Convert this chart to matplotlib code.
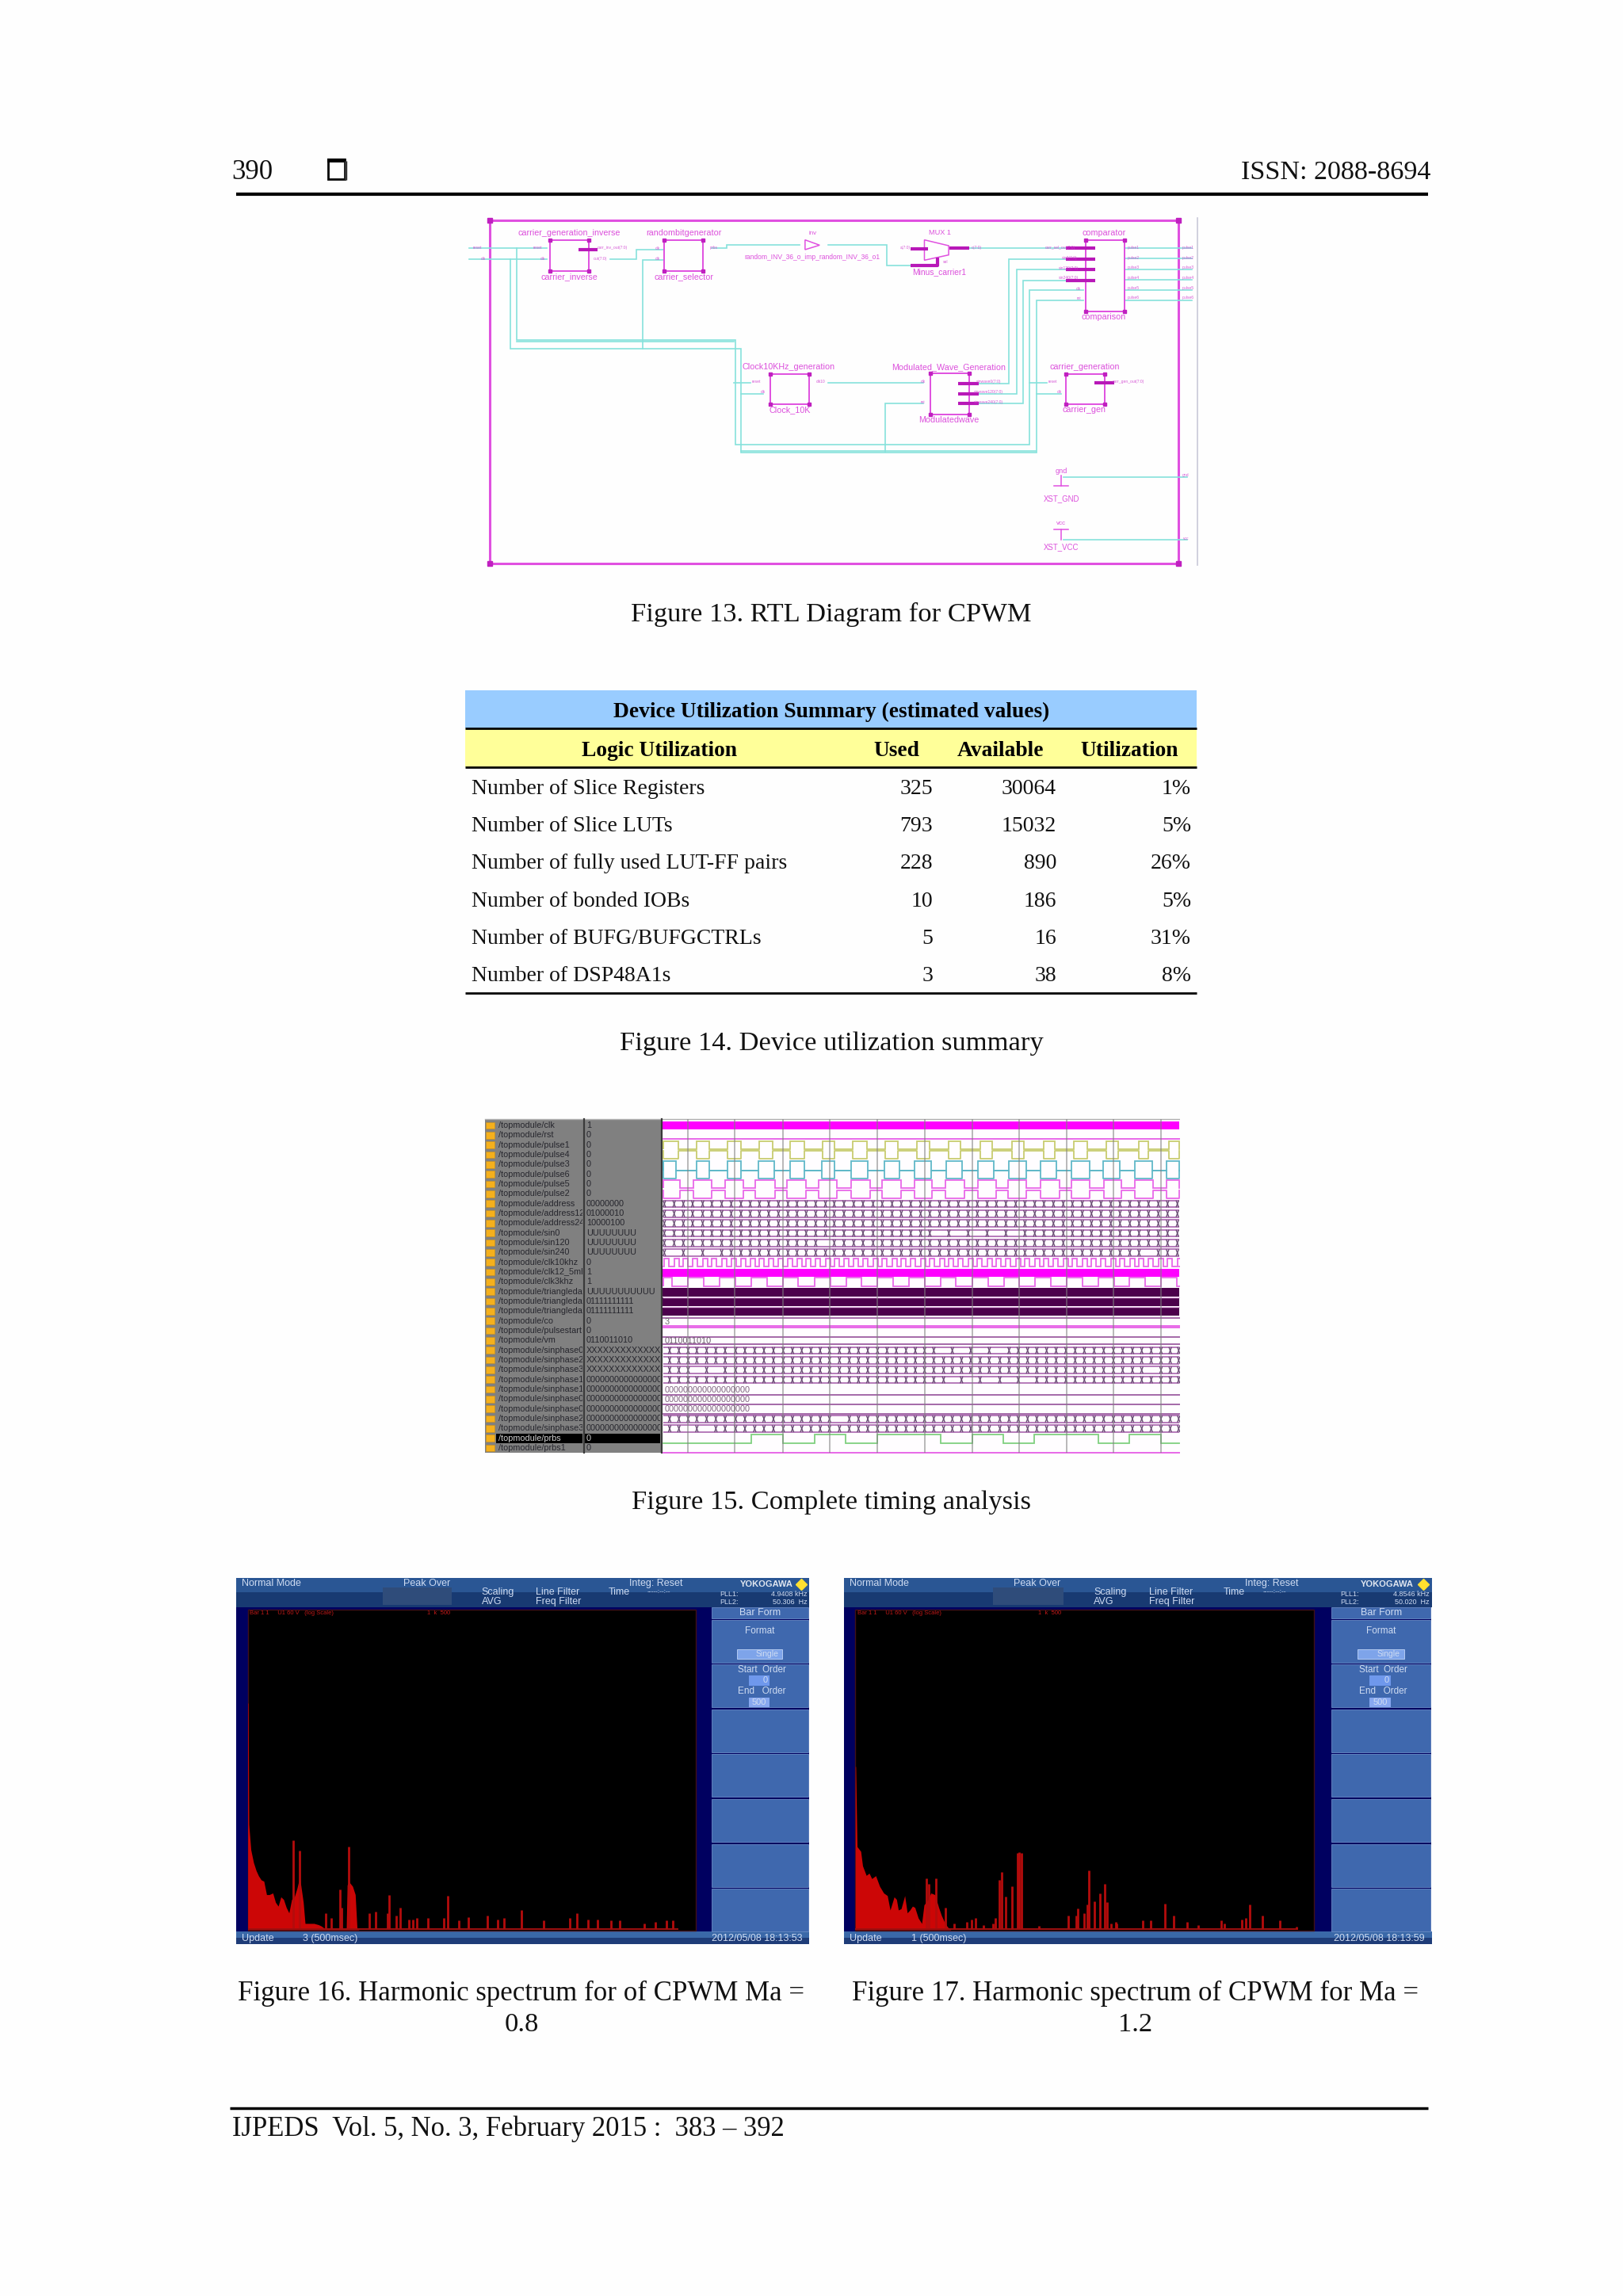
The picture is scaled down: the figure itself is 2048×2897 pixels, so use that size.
import matplotlib
matplotlib.use('Agg')
import numpy as np
import matplotlib.pyplot as plt
from matplotlib.collections import LineCollection
from matplotlib.colors import LinearSegmentedColormap
from matplotlib.patches import Rectangle, Polygon

SERIF = 'Liberation Serif'
SANS = 'Liberation Sans'

# ---- table (figure 14)
table_title = 'Device Utilization Summary (estimated values)'
table_headers = ['Logic Utilization', 'Used', 'Available', 'Utilization']
table_names = ['Number of Slice Registers', 'Number of Slice LUTs', 'Number of fully used LUT-FF pairs',
               'Number of bonded IOBs', 'Number of BUFG/BUFGCTRLs', 'Number of DSP48A1s']
table_used = ['325', '793', '228', '10', '5', '3']
table_available = ['30064', '15032', '890', '186', '16', '38']
table_util = ['1%', '5%', '26%', '5%', '31%', '8%']

# ---- RTL diagram (figure 13)
rtl_wires = [
    [(20, 160), (180, 160)], [(20, 202), (180, 202)],
    [(118, 160), (118, 508), (568, 508), (568, 902), (1175, 902), (1175, 318), (1285, 318)],
    [(104, 202), (104, 540), (580, 540), (580, 932), (1190, 932), (1190, 358), (1285, 358)],
    [(118, 514), (566, 514)], [(580, 928), (1188, 928)],
    [(310, 202), (365, 202), (365, 165), (420, 165)],
    [(420, 205), (378, 205), (378, 540)],
    [(520, 160), (550, 160), (550, 148), (700, 148)],
    [(760, 148), (880, 148), (880, 225), (930, 225)],
    [(1050, 160), (1285, 160)],
    [(1070, 672), (1132, 672), (1132, 202), (1285, 202)],
    [(1070, 710), (1148, 710), (1148, 240), (1285, 240)],
    [(1070, 748), (1162, 748), (1162, 282), (1285, 282)],
    [(760, 670), (955, 670)], [(955, 748), (878, 748), (878, 930)],
    [(565, 670), (600, 670)], [(580, 710), (625, 710)],
    [(1175, 670), (1210, 670)], [(1190, 710), (1240, 710)],
    [(1370, 158), (1510, 158)], [(1370, 197), (1510, 197)], [(1370, 240), (1510, 240)],
    [(1370, 280), (1510, 280)], [(1370, 318), (1510, 318)], [(1370, 358), (1510, 358)],
    [(1245, 1025), (1500, 1025)], [(1245, 1262), (1500, 1262)],
]
rtl_blocks = [(186, 266, 128, 245), (422, 502, 128, 245), (640, 720, 635, 750),
              (970, 1050, 632, 788), (1250, 1330, 635, 750), (1290, 1370, 128, 398)]
rtl_buses = [
    [(245, 165), (285, 165)], [(930, 163), (965, 163)], [(1010, 160), (1050, 160)],
    [(930, 225), (985, 225), (985, 195)],
    [(1250, 160), (1310, 160)], [(1250, 202), (1310, 202)], [(1250, 240), (1310, 240)], [(1250, 282), (1310, 282)],
    [(1028, 672), (1070, 672)], [(1028, 710), (1070, 710)], [(1028, 748), (1070, 748)],
    [(1308, 668), (1350, 668)],
]
rtl_labels = [
    ('carrier_generation_inverse', 226, 102, 9.5), ('carrier_inverse', 226, 266, 9.5),
    ('randombitgenerator', 462, 102, 9.5), ('carrier_selector', 462, 266, 9.5),
    ('inv', 728, 102, 7), ('random_INV_36_o_imp_random_INV_36_o1', 726, 194, 7.5),
    ('MUX 1', 990, 102, 8), ('Minus_carrier1', 988, 250, 9),
    ('comparator', 1328, 102, 9.5), ('comparison', 1328, 420, 9.5),
    ('Clock10KHz_generation', 678, 608, 9.5), ('Clock_10K', 680, 772, 9.5),
    ('Modulated_Wave_Generation', 1008, 608, 9.5), ('Modulatedwave', 1008, 810, 9.5),
    ('carrier_generation', 1288, 608, 9.5), ('carrier_gen', 1288, 772, 9.5),
    ('gnd', 1240, 1003, 8), ('XST_GND', 1240, 1108, 8.5), ('vcc', 1240, 1202, 7), ('XST_VCC', 1240, 1290, 8.5),
]
rtl_pins = [
    ('reset', 36, 157), ('clk', 48, 200), ('reset', 160, 157), ('clk', 172, 200), ('carr_inv_out(7:0)', 315, 157),
    ('out(7:0)', 290, 200), ('clk', 408, 160), ('clk', 408, 200), ('prbs', 524, 157),
    ('a(7:0)', 918, 157), ('o(7:0)', 1065, 157), ('sel', 1002, 213),
    ('carr_sel_out(7:0)', 1238, 157), ('sin0(7:0)', 1258, 197), ('sin120(7:0)', 1255, 235), ('sin240(7:0)', 1255, 272),
    ('clk', 1276, 313), ('rst', 1276, 350),
    ('pulse1', 1388, 158), ('pulse2', 1388, 197), ('pulse3', 1388, 233), ('pulse4', 1388, 272),
    ('pulse5', 1388, 310), ('pulse6', 1388, 347),
    ('pulse1', 1502, 158), ('pulse2', 1502, 195), ('pulse3', 1502, 233), ('pulse4', 1502, 272),
    ('pulse5', 1502, 310), ('pulse6', 1502, 347),
    ('reset', 612, 665), ('clk', 626, 705), ('clk10', 745, 665),
    ('clk', 955, 665), ('rst', 955, 742), ('sinwave0(7:0)', 1090, 664), ('sinwave120(7:0)', 1090, 703), ('sinwave240(7:0)', 1090, 741),
    ('reset', 1222, 665), ('clk', 1236, 705), ('carr_gen_out(7:0)', 1378, 665),
    ('gnd', 1497, 1020), ('vcc', 1497, 1258),
]

# ---- timing diagram (figure 15)
signal_names = ['clk', 'rst', 'pulse1', 'pulse4', 'pulse3', 'pulse6', 'pulse5', 'pulse2', 'address', 'address120',
                'address240', 'sin0', 'sin120', 'sin240', 'clk10khz', 'clk12_5mhz', 'clk3khz', 'triangledata',
                'triangledata1', 'triangledata2', 'co', 'pulsestart', 'vm', 'sinphase0', 'sinphase2', 'sinphase3',
                'sinphase1', 'sinphase11', 'sinphase01', 'sinphase03', 'sinphase21', 'sinphase31', 'prbs', 'prbs1']
signal_values = ['1', '0', '0', '0', '0', '0', '0', '0', '00000000', '01000010', '10000100', 'UUUUUUUU', 'UUUUUUUU',
                 'UUUUUUUU', '0', '1', '1', 'UUUUUUUUUUU', '01111111111', '01111111111', '0', '0', '0110011010',
                 'XXXXXXXXXXXXXXX', 'XXXXXXXXXXXXXXX', 'XXXXXXXXXXXXXXX', '0000000000000000', '0000000000000000',
                 '0000000000000000', '0000000000000000', '0000000000000000', '0000000000000000', '0', '0']
pulse1_high = [(712, 768), (838, 885), (955, 1005), (1075, 1125), (1192, 1245), (1315, 1358), (1428, 1482), (1552, 1598),
               (1670, 1720), (1790, 1835), (1912, 1955), (2030, 2075), (2150, 2192), (2265, 2315), (2388, 2432),
               (2510, 2548), (2625, 2665)]
pulse3_high = [(712, 760), (838, 885), (955, 1005), (1070, 1130), (1190, 1245), (1310, 1360), (1422, 1485), (1548, 1605),
               (1662, 1725), (1782, 1842), (1902, 1962), (2018, 2085), (2140, 2200), (2255, 2325), (2375, 2440),
               (2495, 2562), (2615, 2665)]
pulse5_high = [(712, 775), (825, 895), (945, 1015), (1060, 1135), (1178, 1250), (1300, 1368), (1422, 1495), (1540, 1610),
               (1662, 1728), (1780, 1850), (1902, 1970), (2015, 2085), (2140, 2210), (2255, 2325), (2378, 2445),
               (2495, 2565), (2615, 2665)]
clk3k_high = [(712, 745), (805, 865), (925, 985), (1045, 1105), (1165, 1222), (1285, 1343), (1405, 1462), (1522, 1580),
              (1640, 1700), (1760, 1818), (1880, 1940), (2000, 2058), (2118, 2178), (2237, 2297), (2358, 2417),
              (2475, 2535), (2595, 2655)]
prbs_high = [(1045, 1165), (1283, 1402), (1520, 1760), (1880, 1998), (2115, 2358), (2475, 2595)]
bus_edges_a = [715, 752, 787, 822, 860, 895, 932, 968, 1005, 1040, 1075, 1110, 1147, 1183, 1217, 1252, 1288, 1325, 1358,
               1395, 1432, 1467, 1505, 1540, 1577, 1612, 1648, 1685, 1720, 1757, 1792, 1828, 1865, 1900, 1937, 1972,
               2008, 2045, 2080, 2117, 2152, 2188, 2225, 2260, 2297, 2332, 2368, 2405, 2440, 2477, 2512, 2548, 2585,
               2620, 2657]
bus_edges_b = [735, 770, 805, 838, 875, 910, 945, 985, 1020, 1057, 1092, 1128, 1165, 1200, 1235, 1270, 1305, 1340, 1378,
               1415, 1450, 1485, 1522, 1558, 1593, 1630, 1665, 1700, 1735, 1772, 1805, 1840, 1875, 1910, 1945, 1985,
               2020, 2055, 2090, 2125, 2162, 2198, 2235, 2270, 2305, 2342, 2378, 2415, 2450, 2487, 2522, 2558, 2595,
               2630, 2662]
# rows that hold a bus: name -> edge list and the edges that are missing in that row
bus_rows = {'address': (bus_edges_a, []), 'address120': (bus_edges_a, []), 'address240': (bus_edges_a, []),
            'sin0': (bus_edges_a, [1757, 1828, 1900, 1972, 2045]), 'sin120': (bus_edges_a, [1325]),
            'sin240': (bus_edges_a, [752, 822, 895, 2548]),
            'sinphase0': (bus_edges_b, [1772, 1840, 1910, 1985]), 'sinphase2': (bus_edges_b, []),
            'sinphase3': (bus_edges_b, [838, 910, 2558]), 'sinphase1': (bus_edges_b, [1805, 1875, 1945, 2020, 2090]),
            'sinphase21': (bus_edges_b, [1378]), 'sinphase31': (bus_edges_b, [805, 875])}
cursors = [805, 982, 1163, 1342, 1520, 1700, 1880, 2058, 2237, 2416, 2595]

# ---- harmonic spectra (figures 16, 17): order, level in % of the plot height
f16_fill_x = [0, 0.5, 1.2, 3.5, 6.5, 9.4, 12, 15, 18, 21, 24, 28, 31, 34, 37, 40, 43, 46, 49, 52, 55, 58, 62, 64, 74, 79,
              82, 84, 86, 110, 111, 113, 117, 120, 122, 124]
f16_fill_y = [70.8, 70.8, 33, 25, 21, 18.5, 16.9, 15.6, 15.2, 11, 11, 11.5, 8.6, 7.4, 10.3, 9.5, 7, 5.3, 9.5, 10.3, 13,
              16.5, 8.6, 2, 2, 1.6, 1.2, 0.8, 0.3, 0.3, 14, 15, 13.6, 11, 0.4, 0.2]
f16_spike_x = [50.4, 57.7, 112.8, 102.6, 87, 93, 104.6, 136, 142.7, 156, 158, 166, 170.5, 180, 184, 188.7, 201, 219, 223,
               236, 246, 267, 279, 286, 305, 330, 359, 367.5, 380, 390, 405, 415, 442.5, 455, 467.5, 474]
f16_spike_y = [28, 24.7, 26, 12.7, 5.3, 3.7, 7, 5.3, 5.8, 5.3, 11, 4.5, 7, 3.3, 3.3, 3.7, 3.7, 3.7, 10.7,
               2.9, 4, 4.5, 3.3, 3.7, 6.2, 2.9, 3.7, 5.3, 3.3, 3.3, 2.9, 2.9, 2, 2.5, 2.9, 2.9]
f17_fill_x = [0, 0.5, 2, 6, 8, 12, 15.2, 18, 22.3, 26.6, 31, 35, 38, 42.4, 45, 47, 50, 54, 56.7, 59.6, 62.4, 65, 68.7,
              72.5, 75, 79.6, 82.5, 86.8, 91, 94, 98, 101, 104]
f17_fill_y = [51, 51, 26, 24.5, 20, 17, 17.7, 16, 16.9, 13.6, 11.5, 10.7, 6.2, 10.3, 9.5, 6.2, 6.6, 10.7, 5.3, 6.2, 7.4,
              7, 3.7, 2, 7.8, 9.5, 11.5, 11, 7, 4.5, 2, 0.8, 0.2]
f17_spike_x = [77.3, 80, 87.6, 98, 108, 122, 127, 131, 140, 150, 153, 157, 160, 164, 171, 177, 179, 181, 200, 232, 241,
               243, 250, 253, 255, 261, 266.6, 272, 275, 279, 284, 285, 314, 322, 337.6, 347, 361.6, 374, 399, 403,
               421.5, 425.6, 430, 444, 463, 481]
f17_spike_y = [16, 14.4, 16.2, 7, 2, 2.5, 3.3, 3.7, 1.6, 2, 3.7, 15.6, 18, 10.3, 13.6, 24, 24.3, 24, 1.2, 4.5, 4.5,
               6.6, 5.3, 7.8, 18.5, 9, 11.5, 14.4, 8.6, 2, 2.5, 2, 2.9, 2.9, 8.2, 4.5, 2.5, 1.6, 3, 2,
               3.3, 3.7, 7.8, 4.5, 3, 1]


def add_axes_px(fig, x0, y0, w, h, xlim, ylim):
    ax = fig.add_axes([x0 / 2048, 1 - (y0 + h) / 2897, w / 2048, h / 2897])
    ax.set_xlim(*xlim)
    ax.set_ylim(*ylim)
    ax.axis('off')
    return ax


def draw_page_text(page):
    body = dict(family=SERIF, fontsize=25, va='center', color='#111111')
    caption = dict(family=SERIF, fontsize=24.8, ha='center', va='center', color='#111111')
    page.text(292, 218, '390', **body)
    page.add_patch(Rectangle((414, 201), 21, 25, fc='white', ec='black', lw=2))
    page.add_patch(Rectangle((413, 200), 23, 5, fc='black', ec='none'))
    page.plot([436, 436], [203, 227], color='#333333', lw=2.5, solid_capstyle='butt')
    page.text(1805, 218, 'ISSN: 2088-8694', family=SERIF, fontsize=24.6, va='center', ha='right', color='#111111')
    page.plot([298, 1802], [245, 245], color='black', lw=3, solid_capstyle='butt')
    page.text(1049, 775, 'Figure 13. RTL Diagram for CPWM', **caption)
    page.text(1049, 1317, 'Figure 14. Device utilization summary', **caption)
    page.text(1049, 1896, 'Figure 15. Complete timing analysis', **caption)
    page.text(658, 2515, 'Figure 16. Harmonic spectrum for of CPWM Ma =', family=SERIF, fontsize=25.1, ha='center', va='center', color='#111111')
    page.text(658, 2555, '0.8', **caption)
    page.text(1433, 2515, 'Figure 17. Harmonic spectrum of CPWM for Ma =', family=SERIF, fontsize=25.1, ha='center', va='center', color='#111111')
    page.text(1433, 2555, '1.2', **caption)
    page.plot([290, 1802], [2660, 2660], color='black', lw=2.5, solid_capstyle='butt')
    page.text(293, 2686, 'IJPEDS  Vol. 5, No. 3, February 2015 :  383 \u2013 392', family=SERIF, fontsize=24.9, va='center', color='#111111')


def draw_table(page):
    x0, x1 = 587, 1510
    page.add_patch(Rectangle((x0, 871), x1 - x0, 48, fc='#99ccff', ec='none'))
    page.add_patch(Rectangle((x0, 919), x1 - x0, 49, fc='#ffff99', ec='none'))
    page.plot([x0, x1], [919, 919], color='black', lw=2, solid_capstyle='butt')
    page.plot([x0, x1], [968, 968], color='black', lw=2, solid_capstyle='butt')
    page.plot([x0, x1], [1253, 1253], color='black', lw=2, solid_capstyle='butt')
    page.text(1049, 898, table_title, family=SERIF, weight='bold', fontsize=19.8, ha='center', va='center')
    head_x = [832, 1131, 1263, 1425]
    for hx, head in zip(head_x, table_headers):
        page.text(hx, 947, head, family=SERIF, weight='bold', fontsize=19.8, ha='center', va='center')
    for i in range(len(table_names)):
        y = 995 + i * 47.4
        page.text(595, y, table_names[i], family=SERIF, fontsize=20, va='center', color='#111111')
        page.text(1177, y, table_used[i], family=SERIF, fontsize=20, va='center', ha='right', color='#111111')
        page.text(1333, y, table_available[i], family=SERIF, fontsize=20, va='center', ha='right', color='#111111')
        page.text(1503, y, table_util[i], family=SERIF, fontsize=20, va='center', ha='right', color='#111111')


def draw_rtl(fig):
    ax = add_axes_px(fig, 580, 260, 955, 470, (0, 1560), (1410, 0))
    magenta = '#e050e0'
    wire = '#86e2dc'
    for w in rtl_wires:
        xs, ys = zip(*w)
        ax.plot(xs, ys, color=wire, lw=1.2, solid_joinstyle='miter')
    ax.add_patch(Rectangle((62, 55), 1420, 1297, fc='none', ec=magenta, lw=2.2))
    for cx, cy in [(62, 55), (1482, 55), (62, 1352), (1482, 1352)]:
        ax.plot([cx], [cy], marker='s', ms=4, color='#c020c0')
    ax.plot([1520, 1520], [45, 1358], color='#c8c8d8', lw=1.2)
    for x0, x1, y0, y1 in rtl_blocks:
        ax.plot([x0, x1, x1, x0, x0], [y0, y0, y1, y1, y0], color=magenta, lw=1.4)
        for cx, cy in [(x0, y0), (x1, y0), (x0, y1), (x1, y1)]:
            ax.plot([cx], [cy], marker='s', ms=3.5, color='#c020c0')
    for b in rtl_buses:
        xs, ys = zip(*b)
        ax.plot(xs, ys, color='#b818b8', lw=3, solid_capstyle='butt')
    # inverter, mux, ground and vcc symbols
    ax.add_patch(Polygon([(712, 128), (712, 165), (742, 148)], closed=True, fc='none', ec=magenta, lw=1.1))
    ax.add_patch(Polygon([(958, 128), (1008, 150), (1008, 185), (958, 205)], closed=True, fc='none', ec=magenta, lw=1.1))
    ax.plot([1240, 1240], [1020, 1060], color=magenta, lw=1.1)
    ax.plot([1225, 1255], [1060, 1060], color=magenta, lw=1.1)
    ax.plot([1240, 1240], [1225, 1262], color=magenta, lw=1.1)
    ax.plot([1225, 1255], [1225, 1225], color=magenta, lw=1.1)
    for txt, x, y, size in rtl_labels:
        ax.text(x, y, txt, family=SANS, fontsize=size * 0.82, ha='center', va='center', color='#dc50dc')
    for txt, x, y in rtl_pins:
        ax.text(x, y, txt, family=SANS, fontsize=3.6, ha='center', va='center', color='#d040d0', alpha=0.85)


def square_wave(ax, highs, top, bottom, color, start=712, end=2665, lw=1.3):
    xs = [start]
    ys = [bottom if highs[0][0] > start else top]
    for a, b in highs:
        xs += [a, a, b, b]
        ys += [bottom, top, top, bottom]
    xs.append(end)
    ys.append(bottom)
    ax.plot(xs, ys, color=color, lw=lw, solid_joinstyle='miter')


def inverted_wave(ax, highs, top, bottom, color):
    xs = [712]
    ys = [bottom]
    for a, b in highs:
        xs += [a, a, b, b]
        ys += [bottom, top, top, bottom]
    ax.plot(xs, [top + bottom - y for y in ys], color=color, lw=1.3)


def draw_bus(ax, edges, missing, center, half=13, start=712, end=2665, slope=5):
    segs = [[(start, center - half), (end, center - half)], [(start, center + half), (end, center + half)]]
    ax.add_collection(LineCollection(segs, colors='#b070b4', linewidths=1.3))
    crosses = []
    for e in edges:
        if e in missing or e > end:
            continue
        crosses.append([(e - slope, center - half), (e + slope, center + half)])
        crosses.append([(e - slope, center + half), (e + slope, center - half)])
    ax.add_collection(LineCollection(crosses, colors='#6a4c74', linewidths=1.0))


def draw_timing(fig):
    ax = add_axes_px(fig, 600, 1400, 889, 434, (0, 2667), (1302, 0))
    row_y = [60 + 37 * i for i in range(len(signal_names))]
    ax.add_patch(Rectangle((36, 36), 668, 1262, fc='#808080', ec='none'))
    ax.add_patch(Rectangle((705, 36), 1962, 1262, fc='#fffdff', ec='none'))
    ax.plot([36, 2667], [37, 37], color='#b0b0b0', lw=1)
    clip_names = Rectangle((0, 0), 404, 1302, transform=ax.transData)
    clip_vals = Rectangle((0, 0), 700, 1302, transform=ax.transData)
    for i, name in enumerate(signal_names):
        y = row_y[i]
        ax.add_patch(Rectangle((40, y - 13), 33, 26, fc='#f5b01c', ec='#c89020', lw=0.4))
        col = '#1c1c24'
        if name == 'prbs':
            ax.add_patch(Rectangle((78, y - 18), 326, 36, fc='black', ec='none'))
            ax.add_patch(Rectangle((412, y - 18), 288, 36, fc='black', ec='none'))
            col = '#e8e8e8'
        t = ax.text(88, y, '/topmodule/' + name, family=SANS, fontsize=7.8, va='center', color=col, alpha=0.9)
        t.set_clip_path(clip_names)
        t.set_clip_on(True)
        t = ax.text(419, y, signal_values[i], family=SANS, fontsize=7.8, va='center', color=col, alpha=0.9)
        t.set_clip_path(clip_vals)
        t.set_clip_on(True)
    ax.plot([410, 410], [36, 1298], color='#3a3a3a', lw=1.6)
    ax.plot([706, 706], [36, 1298], color='#3a3a3a', lw=1.6)

    pink = '#e868e8'
    # solid fast clocks and dark buses
    for name, a, b, col in [('clk', 44, 76, '#ff00ff'), ('clk12_5mhz', 602, 632, '#ff00ff'),
                            ('triangledata', 675, 707, '#4c004c'), ('triangledata1', 712, 743, '#4c004c'),
                            ('triangledata2', 750, 780, '#4c004c')]:
        ax.add_patch(Rectangle((708, a), 1957, b - a, fc=col, ec='none'))
    for y in [112, 788, 818, 825, 860, 1298]:
        ax.plot([712, 2665], [y, y], color=pink if y in (112, 818, 825, 1298) else '#a468a8', lw=1.4)
    ax.plot([712, 2665], [710, 710], color='#e8b8e8', lw=1)
    ax.plot([712, 2665], [747, 747], color='#e8b8e8', lw=1)
    ax.plot([712, 2665], [888, 888], color='#a468a8', lw=1.4)

    square_wave(ax, pulse1_high, 120, 150, '#c8cc70')
    inverted_wave(ax, pulse1_high, 155, 185, '#c8cc70')
    square_wave(ax, pulse3_high, 195, 230, '#60b8c8')
    inverted_wave(ax, pulse3_high, 230, 260, '#60b8c8')
    square_wave(ax, pulse5_high, 268, 297, pink)
    inverted_wave(ax, pulse5_high, 305, 335, pink)
    # clk10khz stays high for a fixed 18 units after every edge
    square_wave(ax, [(e, e + 18) for e in bus_edges_a], 565, 595, pink)
    square_wave(ax, clk3k_high, 636, 668, pink)
    square_wave(ax, prbs_high, 1230, 1262, '#80d080')

    for name, (edges, missing) in bus_rows.items():
        draw_bus(ax, edges, missing, row_y[signal_names.index(name)] + 1)
    for y in [1059, 1096, 1133]:
        ax.plot([712, 2665], [y + 20, y + 20], color='#a468a8', lw=1.4)
        ax.text(716, y + 2, '000000000000000000', family=SANS, fontsize=7.8, va='center', color='#6a4a6a', alpha=0.85)
    ax.text(716, 803, '3', family=SANS, fontsize=7.8, va='center', color='#6a6a6a')
    ax.text(716, 875, '0110011010', family=SANS, fontsize=7.8, va='center', color='#6a5a6a')
    ax.vlines(cursors, 36, 1298, colors='#808080', linewidth=1.1, alpha=0.7)


def draw_screen(fig, x0, w, left, plot_x, fill_x, fill_y, spike_x, spike_y, update, stamp, pll):
    ax = add_axes_px(fig, x0, 1980, w, 480, (0, 1560), (1440, 0))
    right = 1552
    ax.add_patch(Rectangle((left, 33), right - left, 1385, fc='#000060', ec='none'))
    grad = np.array([[0.0], [1.0]])
    top_map = LinearSegmentedColormap.from_list('top_bar', ['#2a5694', '#183a72'])
    low_map = LinearSegmentedColormap.from_list('low_bar', ['#3a68a8', '#1e3c78'])
    ax.imshow(grad, extent=(left, right, 143, 33), aspect='auto', cmap=top_map, zorder=1)
    ax.imshow(grad, extent=(left, right, 1418, 1372), aspect='auto', cmap=low_map, zorder=1)
    ax.set_xlim(0, 1560)
    ax.set_ylim(1440, 0)
    ax.add_patch(Rectangle((plot_x[0], 153), plot_x[1] - plot_x[0], 1215, fc='black', ec='#401018', lw=1, zorder=2))
    btn_left = right - 262
    for a, b in [(145, 187), (192, 355), (360, 523), (530, 692), (700, 862), (870, 1032), (1040, 1202), (1208, 1370)]:
        ax.add_patch(Rectangle((btn_left, a), 260, b - a, fc='#3f68ae', ec='#6a8cc4', lw=0.6, zorder=2))
    ax.add_patch(Rectangle((left + 392, 70), 185, 65, fc='#2f4c7a', ec='none', zorder=2))
    s = dict(family=SANS, color='#cfdcf2', va='center', zorder=5)
    ax.text(left + 14, 54, 'Normal Mode', fontsize=9, **s)
    ax.text(left + 446, 54, 'Peak Over', fontsize=9, **s)
    ax.text(left + 656, 87, 'Scaling', fontsize=9, **s)
    ax.text(left + 656, 124, 'AVG', fontsize=9, **s)
    ax.text(left + 802, 87, 'Line Filter', fontsize=9, **s)
    ax.text(left + 802, 124, 'Freq Filter', fontsize=9, **s)
    ax.text(left + 996, 87, 'Time', fontsize=9, **s)
    ax.text(left + 1052, 54, 'Integ: Reset', fontsize=9, **s)
    ax.text(left + 1100, 87, '-----:--:--', fontsize=6, **s)
    ax.text(right - 185, 57, 'YOKOGAWA', fontsize=8, family=SANS, weight='bold', color='#e0e6f0', va='center', zorder=5)
    ax.plot([right - 22], [56], marker='D', ms=7, color='#ffe030', zorder=5)
    ax.text(right - 240, 95, 'PLL1:', fontsize=6.5, **s)
    ax.text(right - 240, 123, 'PLL2:', fontsize=6.5, **s)
    ax.text(right - 5, 95, pll[0], fontsize=6.5, ha='right', **s)
    ax.text(right - 5, 123, pll[1], fontsize=6.5, ha='right', **s)
    cx = btn_left + 130
    ax.text(cx, 165, 'Bar Form', fontsize=9, ha='center', **s)
    ax.text(cx, 233, 'Format', fontsize=8.5, ha='center', **s)
    ax.add_patch(Rectangle((cx - 62, 302), 122, 38, fc='#7ea4ea', ec='#c0d4f8', lw=0.6, zorder=4))
    ax.text(cx + 20, 321, 'Single', fontsize=7.5, ha='center', **s)
    ax.text(cx + 5, 380, 'Start  Order', fontsize=8.5, ha='center', **s)
    ax.add_patch(Rectangle((cx - 30, 402), 56, 40, fc='#6f98ec', ec='none', zorder=4))
    ax.text(cx + 15, 421, '0', fontsize=8, ha='center', **s)
    ax.text(cx + 5, 463, 'End   Order', fontsize=8.5, ha='center', **s)
    ax.add_patch(Rectangle((cx - 30, 486), 56, 36, fc='#88a8f0', ec='none', zorder=4))
    ax.text(cx - 2, 504, '500', fontsize=8, ha='center', **s)
    ax.text(left + 14, 1397, 'Update', fontsize=9, **s)
    ax.text(left + 178, 1397, update, fontsize=9, **s)
    ax.text(right - 18, 1397, stamp, fontsize=9, ha='right', **s)
    red = dict(family=SANS, color='#c01818', va='center', fontsize=5.5, zorder=5)
    ax.text(plot_x[0] + 6, 167, 'Bar 1 1     U1 60 V   (log Scale)', **red)
    ax.text(plot_x[0] + 480, 167, '1  k  500', **red)

    # the plot itself has its own scales: order 0-500, level 0-100 %
    px0 = x0 + plot_x[0] * w / 1560
    pw = (plot_x[1] - plot_x[0]) * w / 1560
    sp = add_axes_px(fig, px0, 2031, pw, 404, (0, 500), (0, 100))
    sp.fill_between(fill_x, 0, fill_y, color='#cc0606', lw=0)
    sp.vlines(spike_x, 0, spike_y, colors='#b40c0c', linewidth=2.0)
    sp.plot([0, 480], [0.35, 0.35], color='#a01010', lw=1.4)


def main():
    fig = plt.figure(figsize=(20.48, 28.97), dpi=100, facecolor='#fefefe')
    page = fig.add_axes([0, 0, 1, 1])
    page.set_xlim(0, 2048)
    page.set_ylim(2897, 0)
    page.axis('off')
    draw_page_text(page)
    draw_table(page)
    draw_rtl(fig)
    draw_timing(fig)
    draw_screen(fig, 290, 735, 18, (48, 1248), f16_fill_x, f16_fill_y, f16_spike_x, f16_spike_y,
                '3 (500msec)', '2012/05/08 18:13:53', ['4.9408 kHz', '50.306  Hz'])
    draw_screen(fig, 1060, 750, 10, (40, 1243), f17_fill_x, f17_fill_y, f17_spike_x, f17_spike_y,
                '1 (500msec)', '2012/05/08 18:13:59', ['4.8546 kHz', '50.020  Hz'])
    fig.savefig('out.png', dpi=100, facecolor=fig.get_facecolor())


if __name__ == '__main__':
    main()
